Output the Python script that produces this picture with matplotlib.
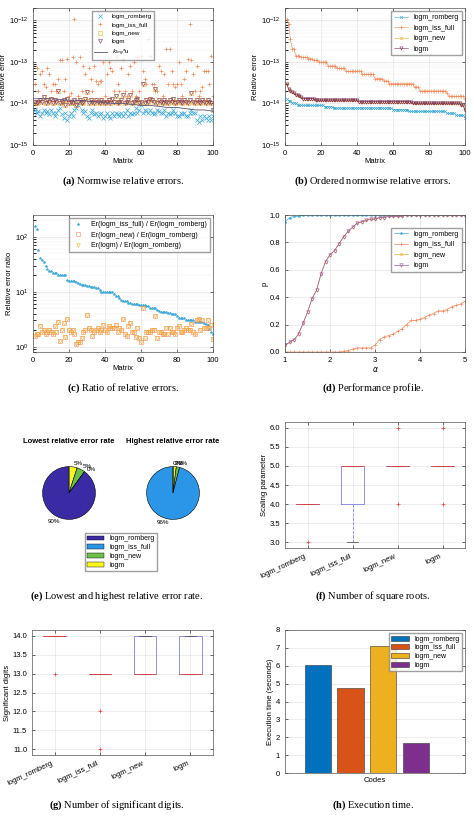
import matplotlib
matplotlib.use("Agg")
import matplotlib.pyplot as plt
import numpy as np

plt.rcParams["font.family"] = ["Liberation Sans", "DejaVu Sans"]
plt.rcParams["font.size"] = 5.5
plt.rcParams["mathtext.fontset"] = "custom"
plt.rcParams["mathtext.bf"] = "Liberation Serif:bold"
plt.rcParams["mathtext.rm"] = "Liberation Serif"
plt.rcParams["xtick.direction"] = "in"
plt.rcParams["ytick.direction"] = "in"
plt.rcParams["axes.linewidth"] = 0.5
plt.rcParams["legend.fancybox"] = False
plt.rcParams["legend.edgecolor"] = "#888888"

codes = ["logm_romberg", "logm_iss_full", "logm_new", "logm"]

# normwise relative errors per matrix (a)
err_romberg = np.array([7, 6, 6.5, 5, 6, 7, 6, 6.5, 5.5, 7, 6, 5, 6, 7, 8, 5.5, 4.5, 6, 4, 5,
                        6, 5, 7, 8, 9, 10, 7, 6, 6.5, 5, 4.5, 6, 7, 5.5, 6, 5, 5.5, 6, 4.5, 5,
                        6, 5, 4.5, 6, 5, 6, 5.5, 5, 6, 5, 6, 7, 5, 6, 5.5, 6, 8, 6, 7, 9,
                        6, 7, 6.5, 6, 7, 6, 5.5, 6, 7, 6.5, 6, 6, 7, 5, 6, 5.5, 6, 7, 6, 5,
                        5, 6, 5.5, 6, 5, 5, 6, 7, 6, 6, 4, 3.5, 5, 4, 5, 4.5, 4, 5, 4, 5]) * 1e-15
err_iss_full = np.array([3, 7, 2, 5, 6, 3, 2.5, 7, 5, 2, 3, 3, 2, 4, 11, 11, 2, 4, 12, 1.5,
                         1.8, 13, 110, 10, 1.5, 13, 2, 8, 5, 1.3, 7, 4, 2, 8, 3.5, 3, 3.5, 3.5, 10, 1.5,
                         5, 10, 7, 6, 2, 13, 3, 2, 7, 12, 2, 1.5, 5, 8, 2, 10, 1.5, 13, 2, 14,
                         6, 4, 3, 35, 14, 3, 3, 2, 2, 8, 6, 1.5, 5, 21, 3, 21, 6, 3, 2.5, 3,
                         10, 3, 1.5, 4, 6, 12, 82, 11, 5, 2, 8, 1.5, 2, 2.5, 6, 6, 6, 3, 14, 1.5]) * 1e-14
err_new = np.array([1.1, 1.0, 1.1, 1.2, 1.1, 1.4, 1.0, 1.2, 1.1, 1.3, 1.0, 1.2, 1.1, 2.0, 1.0, 1.1, 1.2, 0.9, 1.3, 1.0,
                    1.1, 1.0, 1.2, 0.9, 1.1, 1.2, 1.0, 1.1, 1.3, 1.9, 1.0, 1.2, 1.1, 1.0, 1.2, 1.1, 1.0, 1.2, 1.1, 1.0,
                    1.1, 1.2, 1.0, 1.3, 1.1, 1.5, 1.0, 1.1, 1.2, 1.6, 1.0, 1.1, 1.2, 1.6, 1.0, 1.1, 1.2, 1.3, 1.0, 1.1,
                    3.0, 1.0, 1.2, 1.1, 1.3, 1.2, 1.1, 2.2, 1.0, 1.2, 1.1, 1.0, 1.2, 1.1, 1.0, 1.2, 1.1, 1.3, 1.0, 1.1,
                    1.2, 1.1, 1.0, 1.2, 1.1, 1.0, 1.2, 1.8, 1.1, 1.0, 1.2, 1.1, 1.0, 1.2, 1.1, 1.0, 1.2, 1.1, 1.0, 0.7]) * 1e-14
err_logm = err_new.copy()
cond_x = [0, 5, 10, 15, 20, 25, 30, 35, 40, 45, 50, 55, 60, 65, 70, 75, 80, 85, 90, 95, 100]
cond_u = np.array([13, 13, 13, 12.5, 12, 12, 11.5, 11, 10.5, 10, 10, 9.5, 9, 9, 8.5, 8, 8, 7.5, 7, 7, 6.5]) * 1e-15

# performance profile (d)
alpha = np.linspace(1, 5, 41)
p_romberg = [0.95, 0.98, 0.99, 0.99] + [1.0] * 37
p_new = [0.05, 0.07, 0.09, 0.13, 0.21, 0.29, 0.39, 0.45, 0.57, 0.66, 0.71, 0.74, 0.79, 0.84,
         0.88, 0.91, 0.94, 0.95, 0.96, 0.97, 0.97, 0.98, 0.98, 0.99, 0.99, 0.99, 0.99] + [1.0] * 14
p_iss = [0.0] * 13 + [0.005, 0.01, 0.02, 0.03, 0.03, 0.03, 0.03, 0.05, 0.09, 0.11, 0.12, 0.13, 0.15,
                      0.17, 0.2, 0.23, 0.23, 0.24, 0.25, 0.27, 0.28, 0.3, 0.3, 0.31, 0.33, 0.34, 0.35, 0.37]

# pies (e)
pie_lowest = [90, 0, 5, 5]
pie_highest = [0, 96, 2, 2]
pie_colors = ["#3a2ba5", "#2b96e8", "#6cc04a", "#f7f71f"]

# boxplot stats (f), (g): q1, q3, median, whisker low, whisker high, outliers
sqrt_stats = [(4, 4, 4, 4, 4, [3]), (4, 5, 5, 3, 5, []), (5, 5, 5, 5, 5, [4, 6]), (5, 5, 5, 5, 5, [4, 6])]
digit_stats = [(14, 14, 14, 14, 14, [13]), (13, 13, 13, 13, 13, [12, 11]),
               (13, 14, 13, 13, 14, []), (13, 14, 13, 13, 14, [])]

# execution times (h)
exec_time = [6.05, 4.78, 7.12, 1.68]
bar_colors = ["#0072BD", "#D95319", "#EDB120", "#7E2F8E"]

c_rom, c_iss, c_new, c_log = "#3fa9d8", "#f08a5a", "#f0b030", "#7a2f60"

W, H = 474, 818
fig = plt.figure(figsize=(W / 100, H / 100), dpi=100)


def add(x0, y0, x1, y1):
    return fig.add_axes([x0 / W, 1 - y1 / H, (x1 - x0) / W, (y1 - y0) / H])


def caption(xc, y, tag, text):
    fig.text(xc / W, 1 - y / H, r"$\mathbf{(" + tag + r")}$ " + text, ha="center", va="center",
             family="Liberation Serif", fontsize=7.5)


def style(ax):
    ax.grid(True, color="#dddddd", lw=0.4)
    ax.set_axisbelow(True)
    ax.tick_params(length=2, width=0.4, top=True, right=True)
    for s in ax.spines.values():
        s.set_color("#555555")


mat = np.arange(1, 101)

# (a)
ax = add(33, 8, 213, 145)
ax.plot(mat, err_romberg, "x", color=c_rom, ms=2.5, mew=0.5, label="logm_romberg")
ax.plot(mat, err_iss_full, "+", color=c_iss, ms=3, mew=0.5, label="logm_iss_full")
ax.plot(mat, err_new, "s", mfc="none", color=c_new, ms=2.5, mew=0.4, label="logm_new")
ax.plot(mat, err_logm, "v", mfc="none", color=c_log, ms=2.8, mew=0.4, label="logm")
ax.plot(cond_x, cond_u, "-", color="#555577", lw=0.6, label=r"$k_{log}$*u")
ax.set_yscale("log")
ax.set_ylim(1e-15, 2e-12)
ax.set_xlim(0, 100)
ax.set_xlabel("Matrix", labelpad=1)
ax.set_ylabel("Relative error", labelpad=1)
style(ax)
ax.grid(True, which="minor", color="#eeeeee", lw=0.3)
ax.legend(loc="upper center", fontsize=4.5, handlelength=2)
caption(123, 181, "a", "Normwise relative errors.")

# (b)
ax = add(285, 8, 465, 145)
ax.plot(mat, np.sort(err_romberg)[::-1] * 1.3, "x-", color=c_rom, ms=2, mew=0.4, lw=0.4, label="logm_romberg")
ax.plot(mat, np.sort(err_iss_full)[::-1], "+-", color=c_iss, ms=2.5, mew=0.4, lw=0.4, label="logm_iss_full")
ax.plot(mat, np.sort(err_new)[::-1], "s-", mfc="none", color=c_new, ms=2, mew=0.4, lw=0.4, label="logm_new")
ax.plot(mat, np.sort(err_logm)[::-1], "v-", mfc="none", color=c_log, ms=2.3, mew=0.4, lw=0.4, label="logm")
ax.set_yscale("log")
ax.set_ylim(1e-15, 2e-12)
ax.set_xlim(0, 100)
ax.set_xlabel("Matrix", labelpad=1)
ax.set_ylabel("Relative error", labelpad=1)
style(ax)
ax.grid(True, which="minor", color="#eeeeee", lw=0.3)
ax.legend(loc="upper right", fontsize=5)
caption(373, 181, "b", "Ordered normwise relative errors.")

# (c)
ax = add(33, 215, 213, 352)
ratio_iss = np.sort(err_iss_full / err_romberg)[::-1]
ax.plot(mat, ratio_iss, "*", color=c_rom, ms=2, mew=0.4, label="Er(logm_iss_full) / Er(logm_romberg)")
ax.plot(mat, err_new / err_romberg, "s", mfc="none", color=c_iss, ms=2.5, mew=0.4, label="Er(logm_new) / Er(logm_romberg)")
ax.plot(mat, err_logm / err_romberg, "v", mfc="none", color=c_new, ms=2.5, mew=0.4, label="Er(logm) / Er(logm_romberg)")
ax.set_yscale("log")
ax.set_ylim(0.8, 250)
ax.set_xlim(0, 100)
ax.set_xlabel("Matrix", labelpad=1)
ax.set_ylabel("Relative error ratio", labelpad=1)
style(ax)
ax.grid(True, which="minor", color="#eeeeee", lw=0.3)
ax.legend(loc="upper right", fontsize=5)
caption(123, 388, "c", "Ratio of relative errors.")

# (d)
ax = add(285, 215, 465, 352)
ax.plot(alpha, p_romberg, "*-", color=c_rom, ms=2, mew=0.4, lw=0.5, label="logm_romberg")
ax.plot(alpha, p_iss, "+-", color=c_iss, ms=2.5, mew=0.4, lw=0.5, label="logm_iss_full")
ax.plot(alpha, p_new, "s-", mfc="none", color=c_new, ms=2, mew=0.4, lw=0.5, label="logm_new")
ax.plot(alpha, p_new, "v-", mfc="none", color="#9a5aa8", ms=2.5, mew=0.4, lw=0.5, label="logm")
ax.set_xlim(1, 5)
ax.set_ylim(0, 1)
ax.set_xlabel(r"$\alpha$", labelpad=1)
ax.set_ylabel("p", labelpad=1)
style(ax)
ax.legend(loc="upper right", bbox_to_anchor=(1, 0.93), fontsize=5)
caption(373, 388, "d", "Performance profile.")

# (e)
for vals, x0, title in [(pie_lowest, 36, "Lowest relative error rate"),
                        (pie_highest, 140, "Highest relative error rate")]:
    ax = add(x0, 460, x0 + 66, 526)
    order = [3, 2, 1, 0]
    wedges, texts = ax.pie([vals[i] for i in order], colors=[pie_colors[i] for i in order],
                           startangle=90, counterclock=False, labels=[f"{vals[i]}%" for i in order],
                           labeldistance=1.12, wedgeprops=dict(edgecolor="black", linewidth=0.4),
                           textprops=dict(fontsize=4.5))
    ax.set_title(title, fontsize=5.5, fontweight="bold", pad=12)
handles = [plt.Rectangle((0, 0), 1, 1, fc=c, ec="black", lw=0.3) for c in pie_colors]
fig.legend(handles, codes, loc="center", bbox_to_anchor=(121 / W, 1 - 552 / H), fontsize=5,
           handlelength=2.5, borderpad=0.3, labelspacing=0.25)
caption(117, 596, "e", "Lowest and highest relative error rate.")


def boxes(ax, stats):
    bs = [dict(q1=q1, q3=q3, med=med, whislo=lo, whishi=hi, fliers=fl)
          for (q1, q3, med, lo, hi, fl) in stats]
    ax.bxp(bs, widths=0.5, showcaps=True,
           boxprops=dict(color="#8080e0", lw=0.6),
           medianprops=dict(color="#e04040", lw=0.6),
           whiskerprops=dict(color="#8080e0", lw=0.6, ls="--"),
           capprops=dict(color="#555555", lw=0.6),
           flierprops=dict(marker="+", markeredgecolor="#e04040", ms=2.5, mew=0.5))
    ax.set_xticks([1, 2, 3, 4])
    ax.set_xticklabels(codes, rotation=25, ha="right")
    style(ax)


# (f)
ax = add(285, 422, 465, 548)
boxes(ax, sqrt_stats)
ax.set_ylim(2.85, 6.15)
ax.set_ylabel("Scaling parameter", labelpad=1)
caption(373, 596, "f", "Number of square roots.")

# (g)
ax = add(32, 630, 213, 755)
boxes(ax, digit_stats)
ax.set_ylim(10.85, 14.15)
ax.set_ylabel("Significant digits", labelpad=1)
caption(117, 805, "g", "Number of significant digits.")

# (h)
ax = add(285, 630, 465, 773)
ax.bar([1, 2, 3, 4], exec_time, color=bar_colors, width=0.8, edgecolor="#333333", lw=0.4, label=codes)
ax.set_xlim(0, 5.5)
ax.set_ylim(0, 8)
ax.set_xticks([])
ax.set_xlabel("Codes", labelpad=3)
ax.set_ylabel("Execution time (seconds)", labelpad=1)
style(ax)
ax.legend(loc="upper right", fontsize=5, handlelength=2.5, borderpad=0.3, labelspacing=0.25)
caption(373, 805, "h", "Execution time.")

fig.savefig("out.png", dpi=100)
